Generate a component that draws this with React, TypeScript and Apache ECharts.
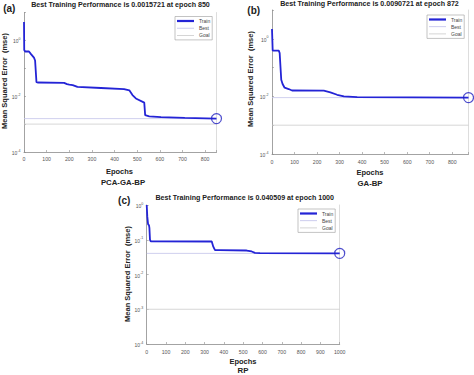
import React, { useEffect, useRef } from 'react';
import * as echarts from 'echarts';

// Panel (a) PCA-GA-BP
const epochsA = [0, 1, 5, 22, 30, 44, 49, 55, 60, 177, 190, 200, 215, 236, 340, 442, 465, 479, 494, 531, 535, 553, 605, 710, 850];
const mseA = [4.6, 0.45, 0.4, 0.4, 0.33, 0.24, 0.19, 0.032, 0.031, 0.03, 0.027, 0.026, 0.025, 0.0215, 0.0197, 0.018, 0.0163, 0.011, 0.0083, 0.0059, 0.0021, 0.0019, 0.00178, 0.00166, 0.0015721];
// Panel (b) GA-BP
const epochsB = [0, 3, 30, 34, 41, 47, 56, 74, 89, 230, 259, 289, 319, 378, 872];
const mseB = [2.2, 0.39, 0.39, 0.32, 0.038, 0.027, 0.02, 0.018, 0.016, 0.0158, 0.0138, 0.0114, 0.01, 0.0095, 0.0090721];
// Panel (c) RP
const epochsC = [0, 3, 7, 12, 14, 17, 21, 337, 345, 354, 380, 518, 544, 561, 587, 1000];
const mseC = [1.0, 0.47, 0.28, 0.26, 0.22, 0.1, 0.09, 0.089, 0.063, 0.05, 0.05, 0.049, 0.046, 0.042, 0.041, 0.040509];

const bestValues = [0.0015721, 0.0090721, 0.040509];
const bestEpochs = [850, 872, 1000];
const goalValue = 0.001;
const maxEpochs = [850, 872, 1000];
const yMax = [10, 10, 1];
const yMin = 0.0001;
const panelTitles = [
  'Best Training Performance is 0.0015721 at epoch 850',
  'Best Training Performance is 0.0090721 at epoch 872',
  'Best Training Performance is 0.040509 at epoch 1000',
];
const panelLetters = ['(a)', '(b)', '(c)'];
const panelNames = ['PCA-GA-BP', 'GA-BP', 'RP'];
const legendNames = ['Train', 'Best', 'Goal'];

const FONT = '"Liberation Sans", Arial, sans-serif';
const BLUE = '#2424d6';
const BEST_C = '#c3c3ea';
const GOAL_C = '#cdcdcd';

const grids = [
  { left: 24, top: 12.5, width: 192.5, height: 139.5 },
  { left: 272, top: 10, width: 196.5, height: 144 },
  { left: 146.7, top: 205, width: 193, height: 139 },
];
const xLabelMargin = [4, 5.5, 5];
const legendPos = [
  { left: 175, top: 16.5 },
  { left: 427, top: 15 },
  { left: 298, top: 209 },
];
const textPos = [
  { title: [120.5, 5], letter: [9.3, 8], ylab: [4.5, 81], epochs: [119.5, 171], name: [123, 182] },
  { title: [369.5, 3.5], letter: [253.7, 10], ylab: [250.3, 79], epochs: [370, 172.5], name: [370, 183] },
  { title: [244.7, 198], letter: [124.2, 200.7], ylab: [127, 274], epochs: [243, 361.5], name: [243, 370] },
];

const THICK_ICON = 'path://M0,0H20V2.6H0Z';
const THIN_ICON = 'path://M0,0H20V1H0Z';

function txt(text: string, x: number, y: number, size: number, rot = 0) {
  return {
    type: 'text',
    x,
    y,
    rotation: rot,
    silent: true,
    style: {
      text,
      font: `bold ${size}px ${FONT}`,
      fill: '#222',
      align: 'center',
      verticalAlign: 'middle',
    },
  };
}

export default function App() {
  const ref = useRef<HTMLDivElement>(null);
  useEffect(() => {
    if (!ref.current) return;
    const chart = echarts.init(ref.current, undefined, { renderer: 'svg' });
    const trains = [
      epochsA.map((e, i) => [e, mseA[i]]),
      epochsB.map((e, i) => [e, mseB[i]]),
      epochsC.map((e, i) => [e, mseC[i]]),
    ];
    const series: any[] = [];
    const xAxis: any[] = [];
    const yAxis: any[] = [];
    const legend: any[] = [];
    const graphic: any[] = [];
    for (let p = 0; p < 3; p++) {
      xAxis.push({
        type: 'value',
        gridIndex: p,
        min: 0,
        max: maxEpochs[p],
        interval: 100,
        axisLine: { show: true, lineStyle: { color: '#8c8c8c', width: 0.8 } },
        axisTick: { show: true, inside: true, length: 2, lineStyle: { color: '#8c8c8c', width: 0.6 } },
        splitLine: { show: false },
        axisLabel: {
          margin: xLabelMargin[p],
          fontSize: 5.2,
          color: '#555',
          fontFamily: FONT,
          formatter: (v: number) => (Math.round(v) % 100 === 0 ? String(Math.round(v)) : ''),
        },
      });
      yAxis.push({
        type: 'log',
        logBase: 10,
        gridIndex: p,
        min: yMin,
        max: yMax[p],
        axisLine: { show: true, lineStyle: { color: '#8c8c8c', width: 0.8 } },
        axisTick: { show: true, inside: true, length: 2, lineStyle: { color: '#8c8c8c', width: 0.6 } },
        splitLine: { show: false },
        minorTick: { show: false },
        axisLabel: {
          margin: 3.5,
          fontFamily: FONT,
          formatter: (v: number) => {
            const e = Math.round(Math.log10(v));
            if (p < 2 && e % 2 !== 0) return '';
            return `{b|10}{s|${e}}`;
          },
          rich: {
            b: { fontSize: 5, color: '#555', fontFamily: FONT, lineHeight: 7, verticalAlign: 'bottom' },
            s: { fontSize: 3.6, color: '#555', fontFamily: FONT, lineHeight: 3.6, verticalAlign: 'top' },
          },
        },
      });
      legend.push({
        data: [
          { name: 'Train', icon: THICK_ICON },
          { name: 'Best', icon: THIN_ICON },
          { name: 'Goal', icon: THIN_ICON },
        ],
        orient: 'vertical',
        left: legendPos[p].left,
        top: legendPos[p].top,
        backgroundColor: '#fff',
        borderColor: '#9a9a9a',
        borderWidth: 0.6,
        borderRadius: 0,
        padding: [1.5, 2, 1.5, 2],
        itemGap: 1.2,
        itemWidth: 17,
        itemHeight: 5,
        selectedMode: false,
        textStyle: { fontSize: 5, color: '#444', fontFamily: FONT, lineHeight: 6 },
      });
      series.push({
        name: 'Train',
        type: 'line',
        xAxisIndex: p,
        yAxisIndex: p,
        data: trains[p],
        symbol: 'none',
        lineStyle: { color: BLUE, width: 1.8 },
        itemStyle: { color: BLUE },
        z: 3,
      });
      series.push({
        name: 'Best',
        type: 'line',
        xAxisIndex: p,
        yAxisIndex: p,
        data: [[0, bestValues[p]], [maxEpochs[p], bestValues[p]]],
        symbol: 'none',
        lineStyle: { color: BEST_C, width: 0.8 },
        itemStyle: { color: BEST_C },
        z: 2,
      });
      series.push({
        name: 'Goal',
        type: 'line',
        xAxisIndex: p,
        yAxisIndex: p,
        data: [[0, goalValue], [maxEpochs[p], goalValue]],
        symbol: 'none',
        lineStyle: { color: GOAL_C, width: 0.8 },
        itemStyle: { color: GOAL_C },
        z: 2,
      });
      series.push({
        name: 'BestPoint' + p,
        type: 'scatter',
        xAxisIndex: p,
        yAxisIndex: p,
        data: [[bestEpochs[p], bestValues[p]]],
        symbol: 'circle',
        symbolSize: 10,
        clip: false,
        itemStyle: { color: 'rgba(0,0,0,0)', borderColor: '#2020c0', borderWidth: 1.2 },
        z: 4,
      });
      const tp = textPos[p];
      graphic.push(txt(panelTitles[p], tp.title[0], tp.title[1], 7.1));
      graphic.push(txt(panelLetters[p], tp.letter[0], tp.letter[1], 10));
      graphic.push(txt('Mean Squared Error  (mse)', tp.ylab[0], tp.ylab[1], 7.5, Math.PI / 2));
      graphic.push(txt('Epochs', tp.epochs[0], tp.epochs[1], 7.5));
      graphic.push(txt(panelNames[p], tp.name[0], tp.name[1], 7.8));
    }
    // right-side box edges
    for (let p = 0; p < 3; p++) {
      yAxis.push({
        type: 'log',
        logBase: 10,
        gridIndex: p,
        position: 'right',
        min: yMin,
        max: yMax[p],
        axisLine: { show: true, lineStyle: { color: '#d4d4d4', width: 0.8 } },
        axisTick: { show: false },
        axisLabel: { show: false },
        splitLine: { show: false },
      });
    }
    chart.setOption({
      animation: false,
      backgroundColor: '#fff',
      textStyle: { fontFamily: FONT },
      grid: grids.map((g) => ({ ...g, containLabel: false })),
      xAxis,
      yAxis,
      legend,
      series,
      graphic,
    });
    return () => chart.dispose();
  }, []);
  return (
    <div
      ref={ref}
      style={{ position: 'fixed', left: 0, top: 0, width: 474, height: 375, background: '#fff' }}
    />
  );
}
